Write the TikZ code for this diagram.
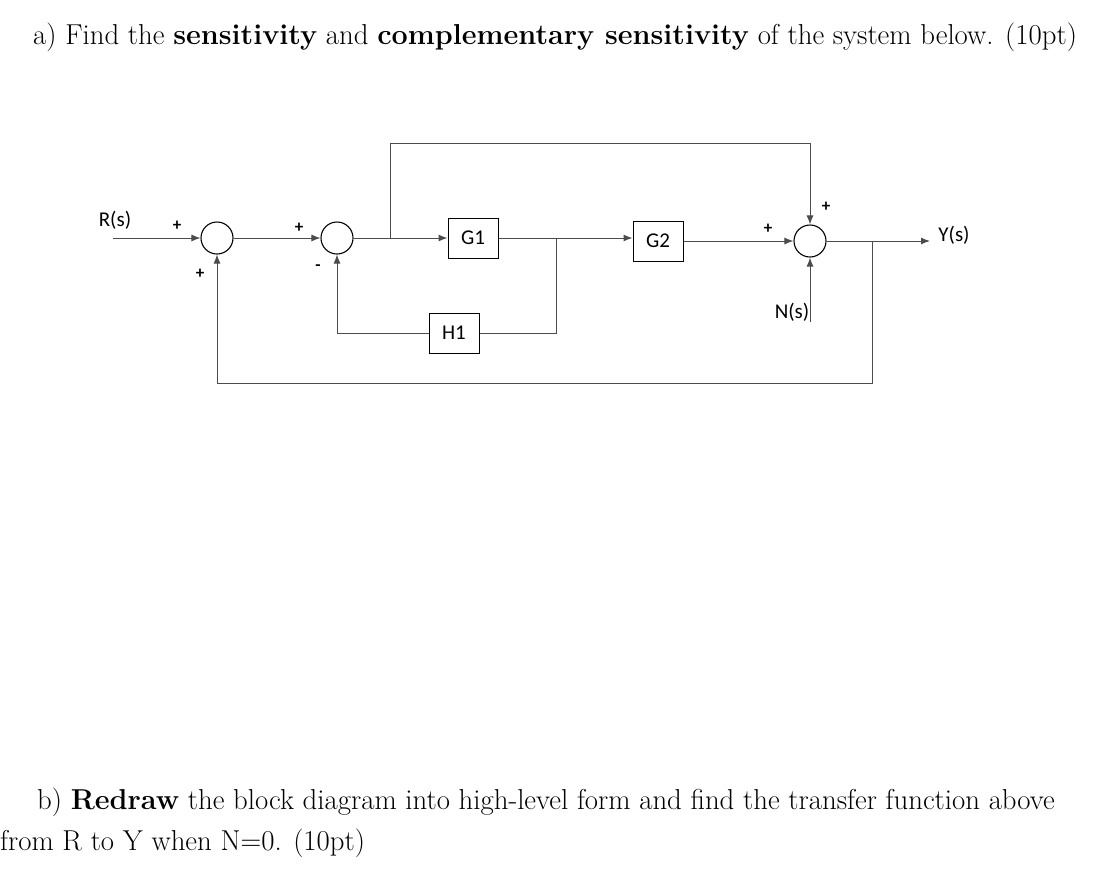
\documentclass[tikz,border=0pt]{standalone}
\usepackage{fontspec}
\newfontfamily\calib{Carlito}
\usetikzlibrary{arrows.meta}
\begin{document}
\begin{tikzpicture}[x=1pt,y=-1pt,
  sumc/.style={circle,draw,line width=1.1pt,minimum size=32pt,inner sep=0pt},
  blk/.style={draw,line width=1pt,minimum width=50pt,minimum height=40pt,inner sep=0pt,font=\calib\fontsize{21}{23}\selectfont},
  lbl/.style={font=\calib\fontsize{21}{23}\selectfont,inner sep=0pt},
  sg/.style={font=\calib\bfseries\fontsize{17}{18}\selectfont,inner sep=0pt},
  ln/.style={draw=black!70,line width=1pt},
  ar/.style={ln,-{Latex[length=9pt,width=7pt]}},
  ttl/.style={font=\fontsize{28.8}{32}\selectfont,inner sep=0pt,anchor=west}]
\useasboundingbox (0,0) rectangle (1094,868);
\node[ttl] (ta) at (33,37) {a) Find the \textbf{sensitivity} and \textbf{complementary sensitivity} of the system below. (10pt)};
\node[ttl] (tb) at (37,802) {b) \textbf{Redraw} the block diagram into high-level form and find the transfer function above};
\node[ttl] (tc) at (0,843) {from R to Y when N=0. (10pt)};

\node[sumc] (s1) at (217,238) {};
\node[sumc] (s2) at (337,238) {};
\node[sumc] (s3) at (810,241) {};
\node[blk] (g1) at (473,238) {G1};
\node[blk] (g2) at (658,241) {G2};
\node[blk] (h1) at (454,333) {H1};
\node[lbl] (r) at (115,220) {R(s)};
\node[lbl] (y) at (954,235) {Y(s)};
\node[lbl] (n) at (792,312) {N(s)};
\coordinate (rin) at (113,238);
\coordinate (nin) at (810,322);
\coordinate (yout) at (930,241);
\coordinate (b1) at (390,238);
\coordinate (b2) at (556,238);
\coordinate (b3) at (872,241);
\coordinate (t1) at (810,143);
\coordinate (l1) at (217,383);

\node[sg] (p1) at (177,226) {+};
\node[sg] (p2) at (200,274) {+};
\node[sg] (p3) at (299,228) {+};
\node[sg] (m1) at (318,268) {-};
\node[sg] (p4) at (768,229) {+};
\node[sg] (p5) at (826,207) {+};

\draw[ar] (rin) -- (s1.west);
\draw[ar] (s1.east) -- (s2.west);
\draw[ar] (s2.east) -- (g1.west);
\draw[ar] (g1.east) -- (g1.east -| g2.west);
\draw[ar] (g2.east) -- (s3.west);
\draw[ar] (s3.east) -- (yout);
\draw[ar] (nin) -- (s3.south);
\draw[ar] (b1) |- (t1) -- (s3.north);
\draw[ar] (b2) |- (h1.east) (h1.west) -| (s2.south);
\draw[ar] (b3) |- (l1) -- (s1.south);
\end{tikzpicture}
\end{document}
